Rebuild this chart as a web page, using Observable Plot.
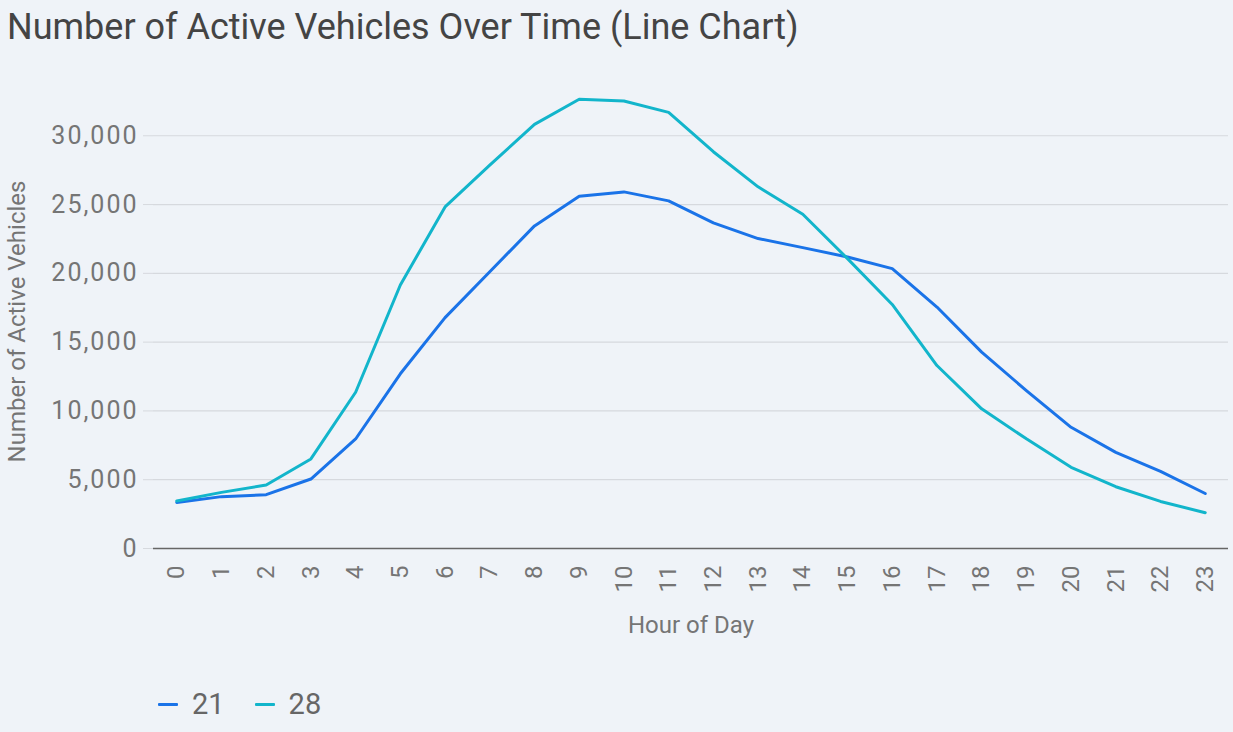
<!DOCTYPE html>
<html><head><meta charset="utf-8">
<script src="https://cdn.jsdelivr.net/npm/d3@7"></script>
<script src="https://cdn.jsdelivr.net/npm/@observablehq/plot@0.6"></script>
<style>
html,body{margin:0;padding:0;background:#eff3f8;}
body{width:1233px;height:732px;overflow:hidden;font-family:Roboto,sans-serif;}
#title{height:60px;padding-left:7px;font-size:36px;line-height:54px;color:#444;white-space:nowrap;}
#chart{height:610px}
#legend{display:flex;align-items:center;padding-left:158px;padding-top:6px;height:56px;font-size:29px;color:#666}
.item{display:flex;align-items:center;margin-right:30px}
.sw{width:20px;height:3px;margin-right:14px;border-radius:1px}
.yt text{letter-spacing:2px}
</style></head>
<body>
<div id="title">Number of Active Vehicles Over Time (Line Chart)</div>
<div id="chart"></div>
<div id="legend"></div>
<script>
const hours = [0,1,2,3,4,5,6,7,8,9,10,11,12,13,14,15,16,17,18,19,20,21,22,23];
const seriesNames = ["21","28"];
const vehicles21 = [3350,3770,3910,5050,7960,12700,16780,20120,23450,25610,25920,25270,23670,22530,21870,21190,20340,17550,14270,11480,8810,6990,5610,4000];
const vehicles28 = [3450,4080,4610,6510,11360,19150,24830,27870,30830,32650,32530,31700,28840,26290,24300,21070,17740,13300,10150,7970,5900,4490,3420,2600];
const seriesColors = ["#1A73E8","#12B5CB"];
const yTicks = [0,5000,10000,15000,20000,25000,30000];

const rows = [];
hours.forEach((h,i)=>{
  rows.push({hour:h, series:seriesNames[0], value:vehicles21[i]});
  rows.push({hour:h, series:seriesNames[1], value:vehicles28[i]});
});

const chart = Plot.plot({
  width: 1233,
  height: 610,
  marginLeft: 153,
  marginRight: 5,
  marginTop: 34,
  marginBottom: 122,
  style: {fontFamily: "Roboto, sans-serif", fontSize: "24px", background: "transparent", color: "#757575"},
  x: {type: "point", domain: hours, padding: 0.52, round: false},
  y: {domain: [0, 33000]},
  color: {domain: seriesNames, range: seriesColors},
  marks: [
    Plot.gridY(yTicks, {stroke: "#d6d9de", strokeOpacity: 1, strokeWidth: 1.2}),
    Plot.axisY(yTicks, {tickFormat: d3.format(","), tickSize: 10, tickPadding: 5, stroke: "#d6d9de", strokeOpacity: 1, fill: "#757575",
      fontSize: 25, className: "yt", label: null}),
    Plot.axisY({label: "Number of Active Vehicles", labelAnchor: "center", labelArrow: "none", labelOffset: 146, ticks: [], fontSize: 24, fill: "#757575"}),
    Plot.axisX(hours, {tickSize: 0, tickPadding: 17, tickRotate: -90, fill: "#757575",
      label: "Hour of Day", labelAnchor: "center", labelArrow: "none", labelOffset: 84}),
    Plot.ruleY([0], {stroke: "#666", strokeWidth: 1.5}),
    Plot.line(rows, {x: "hour", y: "value", z: "series", stroke: "series", strokeWidth: 3, strokeLinejoin: "round"})
  ]
});
document.getElementById("chart").appendChild(chart);

const legend = document.getElementById("legend");
seriesNames.forEach((s,i)=>{
  const it = document.createElement("div"); it.className = "item";
  const sw = document.createElement("div"); sw.className = "sw"; sw.style.background = seriesColors[i];
  const t = document.createElement("span"); t.textContent = s;
  it.appendChild(sw); it.appendChild(t); legend.appendChild(it);
});
</script>
</body></html>
